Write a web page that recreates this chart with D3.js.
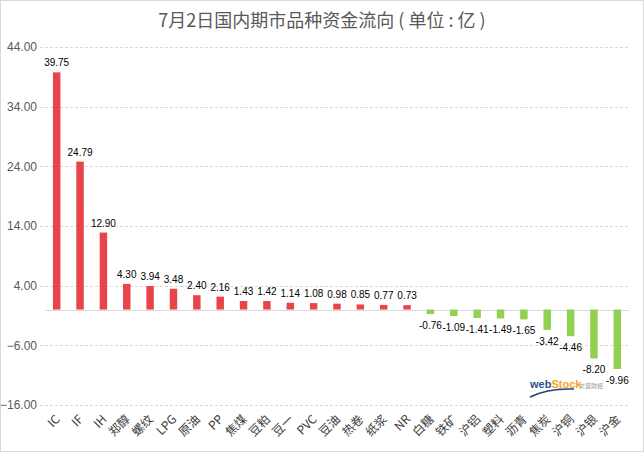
<!DOCTYPE html>
<html>
<head>
<meta charset="utf-8">
<script src="https://cdn.jsdelivr.net/npm/d3@7"></script>
<style>
    body { margin: 0; background: #fff; }
    svg { display: block; }
</style>
</head>
<body>
<div id="chart"></div>
<script>
// data
var categories = ["IC", "IF", "IH", "郑醇", "螺纹", "LPG", "原油", "PP", "焦煤", "豆粕", "豆一", "PVC",
    "豆油", "热卷", "纸浆", "NR", "白糖", "铁矿", "沪铝", "塑料", "沥青", "焦炭", "沪铜", "沪银", "沪金"];
var values = [39.75, 24.79, 12.90, 4.30, 3.94, 3.48, 2.40, 2.16, 1.43, 1.42, 1.14, 1.08,
    0.98, 0.85, 0.77, 0.73, -0.76, -1.09, -1.41, -1.49, -1.65, -3.42, -4.46, -8.20, -9.96];
var yTicks = [44, 34, 24, 14, 4, -6, -16];
var title = "7月2日国内期市品种资金流向 ( 单位 : 亿 )";

var width = 644, height = 452;
var margin = {top: 47, right: 15, bottom: 47, left: 45};

var svg = d3.select("#chart")
    .append("svg")
    .attr("width", width)
    .attr("height", height);

// outer frame
svg.append("rect")
    .attr("x", 0.5).attr("y", 0.5)
    .attr("width", width - 1).attr("height", height - 1)
    .attr("fill", "#fff")
    .attr("stroke", "#d9d9d9");

svg.append("text")
    .attr("x", 322)
    .attr("y", 27)
    .attr("text-anchor", "middle")
    .style("font-family", "'Noto Sans CJK SC', sans-serif")
    .style("font-size", "18px")
    .attr("fill", "#595959")
    .text(title);

var x = d3.scaleBand()
    .domain(categories)
    .range([margin.left, width - margin.right])
    .paddingInner(0.68)
    .paddingOuter(0.34);

var y = d3.scaleLinear()
    .domain([-16, 44])
    .range([height - margin.bottom, margin.top]);

// gridlines
svg.append("g")
    .selectAll("line")
    .data(yTicks)
    .enter()
    .append("line")
    .attr("x1", margin.left - 5)
    .attr("x2", width - margin.right)
    .attr("y1", function(d) { return Math.round(y(d)) + 0.5; })
    .attr("y2", function(d) { return Math.round(y(d)) + 0.5; })
    .attr("stroke", "#d9d9d9")
    .attr("stroke-dasharray", "3,2");

// zero line
svg.append("line")
    .attr("x1", margin.left)
    .attr("x2", width - margin.right)
    .attr("y1", Math.round(y(0)) + 0.5)
    .attr("y2", Math.round(y(0)) + 0.5)
    .attr("stroke", "#d9d9d9");

// y axis labels
var yAxis = d3.axisLeft(y)
    .tickValues(yTicks)
    .tickFormat(d3.format(".2f"))
    .tickSize(0)
    .tickPadding(0);

var yg = svg.append("g")
    .attr("transform", "translate(" + 37 + ",0)")
    .call(yAxis);
yg.select(".domain").remove();
yg.selectAll("text")
    .style("font-family", "'Liberation Sans', Arial, sans-serif")
    .style("font-size", "12px")
    .attr("fill", "#595959");

// bars
svg.append("g")
    .selectAll("rect")
    .data(values)
    .enter()
    .append("rect")
    .attr("x", function(d, i) { return x(categories[i]); })
    .attr("width", x.bandwidth())
    .attr("y", function(d) { return y(Math.max(0, d)); })
    .attr("height", function(d) { return Math.abs(y(d) - y(0)); })
    .attr("fill", function(d) { return d >= 0 ? "#e8454a" : "#92d050"; });

// value labels
svg.append("g")
    .selectAll("text")
    .data(values)
    .enter()
    .append("text")
    .attr("x", function(d, i) { return x(categories[i]) + x.bandwidth() / 2; })
    .attr("y", function(d) { return d >= 0 ? y(d) - 6 : y(d) + 15; })
    .attr("text-anchor", "middle")
    .style("font-family", "'Liberation Sans', Arial, sans-serif")
    .style("font-size", "10px")
    .attr("fill", "#000")
    .text(function(d) { return d.toFixed(2); });

// category labels, rotated
svg.append("g")
    .selectAll("text")
    .data(categories)
    .enter()
    .append("text")
    .attr("transform", function(d) {
        return "translate(" + (x(d) + x.bandwidth() / 2 + 1) + "," + 417 + ") rotate(-45)";
    })
    .attr("text-anchor", "end")
    .attr("dy", "0.35em")
    .style("font-family", "'Noto Sans CJK SC', sans-serif")
    .style("font-size", "12px")
    .attr("fill", "#404040")
    .text(function(d) { return d; });

// watermark
var wm = svg.append("g").attr("transform", "translate(530,388)");
wm.append("path")
    .attr("d", "M0,9 Q18,0 44,1")
    .attr("fill", "none")
    .attr("stroke", "#2b3f6b")
    .attr("stroke-width", 1.5);
var wt = wm.append("text")
    .style("font-family", "'Liberation Sans', Arial, sans-serif")
    .style("font-size", "11px")
    .style("font-weight", "bold");
wt.append("tspan").attr("fill", "#2e4e8f").text("web");
wt.append("tspan").attr("fill", "#f3a51d").text("Stock");
wm.append("text")
    .attr("x", 49)
    .attr("y", 0)
    .style("font-family", "'Noto Sans CJK TC', sans-serif")
    .style("font-size", "6px")
    .attr("fill", "#9a9a9a")
    .text("文華財經");
</script>
</body>
</html>
